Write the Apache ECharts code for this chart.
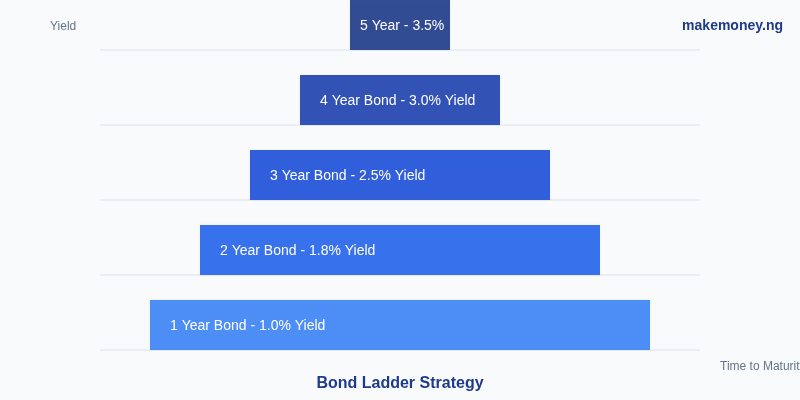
<!DOCTYPE html>
<html>
<head>
<meta charset="utf-8">
<script src="https://cdn.jsdelivr.net/npm/echarts@6/dist/echarts.min.js"></script>
<style>
  html, body { margin: 0; padding: 0; background: #f8fafc; }
  #chart { width: 800px; height: 400px; }
</style>
</head>
<body>
<div id="chart"></div>
<script>
// Data (bottom rung first)
var categories = ['1 Year Bond', '2 Year Bond', '3 Year Bond', '4 Year Bond', '5 Year Bond'];
var yields = [1.0, 1.8, 2.5, 3.0, 3.5];
var ladderWidth = [5, 4, 3, 2, 1];
var barLabels = [
  '1 Year Bond - 1.0% Yield',
  '2 Year Bond - 1.8% Yield',
  '3 Year Bond - 2.5% Yield',
  '4 Year Bond - 3.0% Yield',
  '5 Year - 3.5%'
];
var barColors = ['#3b82f6', '#2563eb', '#1d4ed8', '#1e40af', '#1e3a8a'];

var FONT = '"Liberation Sans", Arial, Helvetica, sans-serif';
var chart = echarts.init(document.getElementById('chart'));

var seriesData = categories.map(function (c, i) {
  return [i, ladderWidth[i], yields[i]];
});

function renderItem(params, api) {
  var idx = api.value(0);
  var w = api.value(1);
  var x0 = 3 - w / 2, x1 = 3 + w / 2;
  var pTop = api.coord([x0, idx + 2 / 3]);
  var pBot = api.coord([x1, idx]);
  var rx = pTop[0], ry = pTop[1];
  var rw = pBot[0] - pTop[0], rh = pBot[1] - pTop[1];
  var pad = rw < 150 ? 10 : 20;
  return {
    type: 'group',
    children: [
      {
        type: 'rect',
        shape: { x: rx, y: ry, width: rw, height: rh },
        style: {
          fill: barColors[idx],
          opacity: 0.9,
          shadowBlur: 3,
          shadowColor: 'rgba(15,23,42,0.06)'
        }
      },
      {
        type: 'text',
        style: {
          x: rx + pad,
          y: ry + rh / 2 + 1,
          text: barLabels[idx],
          fill: '#ffffff',
          font: '14px ' + FONT,
          textVerticalAlign: 'middle',
          textAlign: 'left'
        }
      }
    ]
  };
}

chart.setOption({
  backgroundColor: '#f8fafc',
  animation: false,
  grid: { left: 100, right: 100, top: 0, bottom: 50 },
  xAxis: {
    type: 'value', min: 0, max: 6, show: false
  },
  yAxis: {
    type: 'value', min: 0, max: 14 / 3, interval: 1,
    axisLine: { show: false }, axisTick: { show: false }, axisLabel: { show: false },
    splitLine: { show: true, showMaxLine: false, lineStyle: { color: '#eaedf1', width: 2 } }
  },
  series: [{
    type: 'custom',
    renderItem: renderItem,
    data: seriesData,
    encode: { x: 1, y: 0 },
    z: 5
  }],
  graphic: [
    { type: 'text', left: 50, top: 21, style: { text: 'Yield', fill: '#64748b', font: '12px ' + FONT } },
    { type: 'text', right: 17, top: 19, style: { text: 'makemoney.ng', fill: '#1e3a8a', font: 'bold 14px ' + FONT } },
    { type: 'text', left: 720, top: 361, style: { text: 'Time to Maturity', fill: '#64748b', font: '12px ' + FONT } },
    { type: 'text', left: 'center', top: 376, style: { text: 'Bond Ladder Strategy', fill: '#1e3a8a', font: 'bold 16px ' + FONT } }
  ]
});
</script>
</body>
</html>
